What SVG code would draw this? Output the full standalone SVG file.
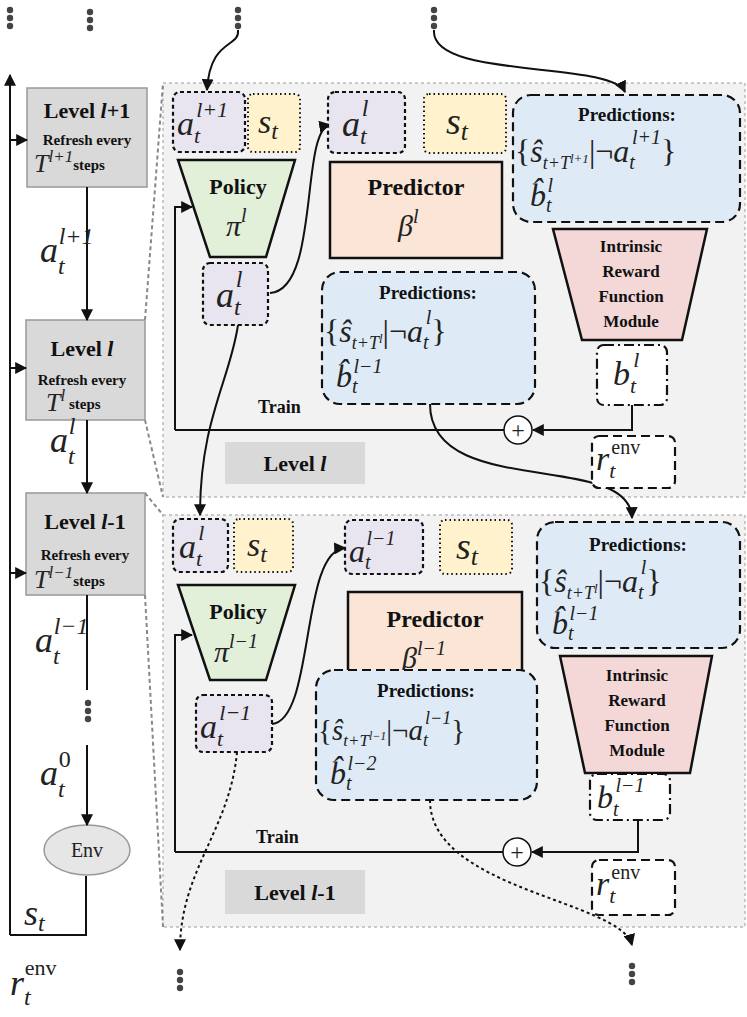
<svg xmlns="http://www.w3.org/2000/svg" width="747" height="1017" viewBox="0 0 747 1017">
<style>
.m{font-family:"Liberation Serif",serif;font-style:italic;fill:#222}
.r{font-family:"Liberation Serif",serif;fill:#222}
.b{font-family:"Liberation Serif",serif;font-weight:bold;fill:#111}
.ln{fill:none;stroke:#111;stroke-width:2}
.panel{fill:#f2f2f2;stroke:#bbb;stroke-width:1.5;stroke-dasharray:3 3}
.lav{fill:#e8e4f0;stroke:#111;stroke-width:2.2;stroke-dasharray:4 3}
.yel{fill:#fff2cc;stroke:#111;stroke-width:2;stroke-dasharray:1.5 3}
.pred{fill:#deebf7;stroke:#111;stroke-width:2.2;stroke-dasharray:9 5}
.bb{fill:#fff;stroke:#111;stroke-width:2.2;stroke-dasharray:10 4 2 4}
.rb{fill:#fff;stroke:#111;stroke-width:2.2;stroke-dasharray:9 5}
.lvl{fill:#d9d9d9;stroke:#999;stroke-width:1.5}
.zd{fill:none;stroke:#888;stroke-width:2;stroke-dasharray:4 3}
.dot{fill:#444}
</style>
<defs>
<marker id="ah" viewBox="0 0 10 10" refX="9" refY="5" markerWidth="6" markerHeight="6" orient="auto"><path d="M0,0L10,5L0,10z" fill="#111"/></marker>
<g id="dots"><circle cx="0" cy="0" r="3.2" class="dot"/><circle cx="0" cy="8" r="3.2" class="dot"/><circle cx="0" cy="16" r="3.2" class="dot"/></g>
</defs>
<rect width="747" height="1017" fill="#fff"/>
<use href="#dots" x="10" y="10"/><use href="#dots" x="90" y="12"/><use href="#dots" x="238" y="10"/><use href="#dots" x="434" y="10"/>
<use href="#dots" x="180" y="972"/><use href="#dots" x="632" y="966"/><use href="#dots" x="88" y="703"/>
<rect class="panel" x="163" y="83" width="582" height="414"/>
<rect class="panel" x="163" y="515" width="582" height="412"/>
<g id="zoomlines">
<path class="zd" d="M145,320L163,83M145,420L163,497M145,493L163,515M145,595L163,927"/>
</g>
<g id="level_l1"><rect class="lvl" x="27" y="88" width="120" height="99"/>
<text class="b" x="87" y="118" font-size="22" text-anchor="middle">Level <tspan font-style="italic">l</tspan>+1</text>
<text class="b" x="87" y="145" font-size="15" text-anchor="middle">Refresh every</text>
<text class="m" x="34" y="172" font-size="26">T<tspan dy="-10" font-size="17">l+1</tspan><tspan dy="8" class="b" font-style="normal" font-size="15">steps</tspan></text></g>
<g id="level_l"><rect class="lvl" x="26" y="320" width="119" height="100"/>
<text class="b" x="82" y="356" font-size="22" text-anchor="middle">Level <tspan font-style="italic">l</tspan></text>
<text class="b" x="82" y="385" font-size="15" text-anchor="middle">Refresh every</text>
<text class="m" x="46" y="411" font-size="26">T<tspan dy="-10" font-size="17">l</tspan><tspan dy="8" class="b" font-style="normal" font-size="15">   steps</tspan></text></g>
<g id="level_lm1"><rect class="lvl" x="26" y="493" width="119" height="102"/>
<text class="b" x="85" y="529" font-size="22" text-anchor="middle">Level <tspan font-style="italic">l</tspan>-1</text>
<text class="b" x="85" y="560" font-size="15" text-anchor="middle">Refresh every</text>
<text class="m" x="34" y="588" font-size="26">T<tspan dy="-10" font-size="17">l−1</tspan><tspan dy="8" class="b" font-style="normal" font-size="15">steps</tspan></text></g>
<g id="env"><ellipse cx="87" cy="850" rx="43" ry="25" fill="#e6e6e6" stroke="#999" stroke-width="1.5"/><text class="r" x="87" y="857" font-size="20" text-anchor="middle">Env</text></g>
<g id="connectors">
<path class="ln" d="M10,935V75" marker-end="url(#ah)"/>
<path class="ln" d="M10,935H86V876"/>
<path class="ln" d="M10,140H27" marker-end="url(#ah)"/>
<path class="ln" d="M10,368H26" marker-end="url(#ah)"/>
<path class="ln" d="M10,573H26" marker-end="url(#ah)"/>
<path class="ln" d="M87,187V320" marker-end="url(#ah)"/>
<path class="ln" d="M87,420V493" marker-end="url(#ah)"/>
<path class="ln" d="M87,595V690"/>
<path class="ln" d="M87,745V825" marker-end="url(#ah)"/>
<path class="ln" d="M238,30C240,48 210,38 207,90" marker-end="url(#ah)"/>
<path class="ln" d="M434,30C430,80 610,60 625,92" marker-end="url(#ah)"/>
<path class="ln" d="M270,293C320,290 300,130 330,125" marker-end="url(#ah)"/>
<path class="ln" d="M238,325C230,380 200,420 200,515" marker-end="url(#ah)"/>
<path class="ln" d="M175,430V207H192" marker-end="url(#ah)"/>
<path class="ln" d="M175,430H504"/>
<path class="ln" d="M632,405V430H533" marker-end="url(#ah)"/>
<path class="ln" d="M430,404C430,500 630,450 632,518" marker-end="url(#ah)"/>
<path class="ln" d="M272,724C315,720 300,550 345,548" marker-end="url(#ah)"/>
<path class="ln" d="M175,852V635H192" marker-end="url(#ah)"/>
<path class="ln" d="M175,852H503"/>
<path class="ln" d="M638,820V852H532" marker-end="url(#ah)"/>
<path class="ln" d="M237,752C230,830 180,870 180,950" stroke-dasharray="3 3" marker-end="url(#ah)"/>
<path class="ln" d="M430,800C430,890 620,900 632,945" stroke-dasharray="3 3" marker-end="url(#ah)"/>
</g>
<text class="m" x="40" y="262" font-size="36">a<tspan dy="12" font-size="24">t</tspan><tspan dx="-6" dy="-30" font-size="24">l+1</tspan></text>
<text class="m" x="50" y="452" font-size="36">a<tspan dy="12" font-size="24">t</tspan><tspan dx="-6" dy="-30" font-size="24">l</tspan></text>
<text class="m" x="35" y="652" font-size="36">a<tspan dy="12" font-size="24">t</tspan><tspan dx="-6" dy="-30" font-size="24">l−1</tspan></text>
<text class="m" x="40" y="785" font-size="36">a<tspan dy="12" font-size="24">t</tspan><tspan dx="-6" dy="-30" font-size="24" font-style="normal">0</tspan></text>
<text class="m" x="24" y="925" font-size="36">s<tspan dy="6" font-size="24">t</tspan></text>
<text class="m" x="10" y="995" font-size="36">r<tspan dy="10" font-size="24">t</tspan><tspan dx="-6" dy="-30" font-size="22" font-style="normal">env</tspan></text>

<g id="p1_a1"><rect class="lav" x="173" y="92" width="72" height="60" rx="7"/><text class="m" x="177" y="135" font-size="34">a<tspan dy="8" font-size="22">t</tspan><tspan dx="-4" dy="-26" font-size="22">l+1</tspan></text></g>
<g id="p1_s"><rect class="yel" x="248" y="94" width="52" height="58" rx="5"/><text class="m" x="258" y="133" font-size="34">s<tspan dy="6" font-size="24">t</tspan></text></g>
<g id="p1_policy"><path d="M178,160H295L266,257H210Z" fill="#e2efd9" stroke="#111" stroke-width="2.5"/><text class="b" x="238" y="194" font-size="22" text-anchor="middle">Policy</text><text class="m" x="226" y="236" font-size="30">π<tspan dy="-14" font-size="20">l</tspan></text></g>
<g id="p1_a2"><rect class="lav" x="203" y="263" width="65" height="62" rx="7"/><text class="m" x="216" y="307" font-size="36">a<tspan dy="8" font-size="24">t</tspan><tspan dx="-5" dy="-28" font-size="24">l</tspan></text></g>
<g id="p1_a3"><rect class="lav" x="328" y="92" width="77" height="61" rx="7"/><text class="m" x="342" y="136" font-size="36">a<tspan dy="8" font-size="24">t</tspan><tspan dx="-5" dy="-28" font-size="24">l</tspan></text></g>
<g id="p1_s2"><rect class="yel" x="424" y="94" width="82" height="59" rx="5"/><text class="m" x="446" y="134" font-size="38">s<tspan dy="6" font-size="26">t</tspan></text></g>
<g id="p1_predictor"><rect x="330" y="162" width="172" height="96" fill="#fbe5d6" stroke="#111" stroke-width="2.5"/><text class="b" x="416" y="195" font-size="24" text-anchor="middle">Predictor</text><text class="m" x="398" y="236" font-size="30">β<tspan dy="-13" font-size="20">l</tspan></text></g>
<g id="p1_predtop"><rect class="pred" x="513" y="95" width="227" height="127" rx="18"/><text class="b" x="627" y="121" font-size="19" text-anchor="middle">Predictions:</text>
<text class="m" x="515" y="162" font-size="32"><tspan font-style="normal">{</tspan>ŝ<tspan dy="7" font-size="18">t+T</tspan><tspan dy="-6" font-size="13">l+1</tspan><tspan dy="-1" font-size="32" font-style="normal">|¬</tspan>a<tspan dy="7" font-size="20">t</tspan><tspan dx="-3" dy="-25" font-size="20">l+1</tspan><tspan dy="18" font-size="32" font-style="normal">}</tspan></text>
<text class="m" x="530" y="206" font-size="32">b̂<tspan dy="6" font-size="20">t</tspan><tspan dx="-4" dy="-20" font-size="20">l</tspan></text></g>
<g id="p1_intrinsic"><path d="M553,229H707L682,340H582Z" fill="#f4d7d7" stroke="#111" stroke-width="2.5"/>
<text class="b" font-size="17" text-anchor="middle"><tspan x="631" y="252">Intrinsic</tspan><tspan x="631" y="277">Reward</tspan><tspan x="631" y="302">Function</tspan><tspan x="631" y="327">Module</tspan></text></g>
<g id="p1_b"><rect class="bb" x="597" y="345" width="70" height="60" rx="7"/><text class="m" x="613" y="385" font-size="34">b<tspan dy="8" font-size="22">t</tspan><tspan dx="-3" dy="-26" font-size="22">l</tspan></text></g>
<g id="p1_predmid"><rect class="pred" x="322" y="272" width="213" height="132" rx="18"/><text class="b" x="428" y="299" font-size="19" text-anchor="middle">Predictions:</text>
<text class="m" x="324" y="342" font-size="32"><tspan font-style="normal">{</tspan>ŝ<tspan dy="7" font-size="18">t+T</tspan><tspan dy="-6" font-size="13">l</tspan><tspan dy="-1" font-size="32" font-style="normal">|¬</tspan>a<tspan dy="7" font-size="20">t</tspan><tspan dx="-3" dy="-25" font-size="20">l</tspan><tspan dy="18" font-size="32" font-style="normal">}</tspan></text>
<text class="m" x="336" y="387" font-size="32">b̂<tspan dy="6" font-size="20">t</tspan><tspan dx="-4" dy="-20" font-size="20">l−1</tspan></text></g>
<text class="b" x="258" y="413" font-size="18">Train</text>
<g id="p1_plus"><circle cx="518" cy="430" r="14" fill="#fff" stroke="#111" stroke-width="1.5"/><text class="r" x="518" y="438" font-size="24" text-anchor="middle">+</text></g>
<g id="p1_r"><rect class="rb" x="592" y="436" width="83" height="52" rx="7"/><text class="m" x="596" y="470" font-size="34">r<tspan dy="8" font-size="22">t</tspan><tspan dx="-4" dy="-24" font-size="20" font-style="normal">env</tspan></text></g>
<g id="p1_label"><rect x="225" y="442" width="140" height="42" fill="#d9d9d9"/><text class="b" x="295" y="471" font-size="22" text-anchor="middle">Level <tspan font-style="italic">l</tspan></text></g>

<g id="p2_a1"><rect class="lav" x="173" y="519" width="55" height="53" rx="7"/><text class="m" x="179" y="558" font-size="34">a<tspan dy="8" font-size="22">t</tspan><tspan dx="-4" dy="-26" font-size="22">l</tspan></text></g>
<g id="p2_s"><rect class="yel" x="234" y="519" width="59" height="53" rx="5"/><text class="m" x="247" y="556" font-size="34">s<tspan dy="6" font-size="24">t</tspan></text></g>
<g id="p2_policy"><path d="M178,585H295L266,680H210Z" fill="#e2efd9" stroke="#111" stroke-width="2.5"/><text class="b" x="238" y="619" font-size="22" text-anchor="middle">Policy</text><text class="m" x="214" y="662" font-size="30">π<tspan dy="-14" font-size="20">l−1</tspan></text></g>
<g id="p2_a2"><rect class="lav" x="196" y="695" width="76" height="57" rx="7"/><text class="m" x="200" y="738" font-size="34">a<tspan dy="8" font-size="22">t</tspan><tspan dx="-4" dy="-26" font-size="22">l−1</tspan></text></g>
<g id="p2_a3"><rect class="lav" x="345" y="520" width="78" height="54" rx="7"/><text class="m" x="349" y="562" font-size="32">a<tspan dy="7" font-size="20">t</tspan><tspan dx="-4" dy="-24" font-size="20">l−1</tspan></text></g>
<g id="p2_s2"><rect class="yel" x="440" y="520" width="72" height="54" rx="5"/><text class="m" x="456" y="559" font-size="38">s<tspan dy="6" font-size="26">t</tspan></text></g>
<g id="p2_predictor"><rect x="348" y="592" width="174" height="98" fill="#fbe5d6" stroke="#111" stroke-width="2.5"/><text class="b" x="435" y="627" font-size="24" text-anchor="middle">Predictor</text><text class="m" x="402" y="668" font-size="30">β<tspan dy="-13" font-size="20">l−1</tspan></text></g>
<g id="p2_predtop"><rect class="pred" x="537" y="522" width="203" height="126" rx="18"/><text class="b" x="638" y="551" font-size="19" text-anchor="middle">Predictions:</text>
<text class="m" x="539" y="592" font-size="32"><tspan font-style="normal">{</tspan>ŝ<tspan dy="7" font-size="18">t+T</tspan><tspan dy="-6" font-size="13">l</tspan><tspan dy="-1" font-size="32" font-style="normal">|¬</tspan>a<tspan dy="7" font-size="20">t</tspan><tspan dx="-3" dy="-25" font-size="20">l</tspan><tspan dy="18" font-size="32" font-style="normal">}</tspan></text>
<text class="m" x="552" y="634" font-size="32">b̂<tspan dy="6" font-size="20">t</tspan><tspan dx="-4" dy="-20" font-size="20">l−1</tspan></text></g>
<g id="p2_intrinsic"><path d="M560,656H712L690,773H585Z" fill="#f4d7d7" stroke="#111" stroke-width="2.5"/>
<text class="b" font-size="17" text-anchor="middle"><tspan x="637" y="681">Intrinsic</tspan><tspan x="637" y="706">Reward</tspan><tspan x="637" y="731">Function</tspan><tspan x="637" y="756">Module</tspan></text></g>
<g id="p2_b"><rect class="bb" x="590" y="774" width="80" height="46" rx="7"/><text class="m" x="597" y="808" font-size="32">b<tspan dy="8" font-size="20">t</tspan><tspan dx="-3" dy="-24" font-size="20">l−1</tspan></text></g>
<g id="p2_predmid"><rect class="pred" x="316" y="670" width="221" height="130" rx="18"/><text class="b" x="426" y="697" font-size="19" text-anchor="middle">Predictions:</text>
<text class="m" x="318" y="740" font-size="29"><tspan font-style="normal">{</tspan>ŝ<tspan dy="6" font-size="17">t+T</tspan><tspan dy="-6" font-size="12">l−1</tspan><tspan font-size="29" font-style="normal">|¬</tspan>a<tspan dy="6" font-size="18">t</tspan><tspan dx="-3" dy="-22" font-size="18">l−1</tspan><tspan dy="16" font-size="29" font-style="normal">}</tspan></text>
<text class="m" x="330" y="784" font-size="32">b̂<tspan dy="6" font-size="20">t</tspan><tspan dx="-4" dy="-20" font-size="20">l−2</tspan></text></g>
<text class="b" x="256" y="843" font-size="18">Train</text>
<g id="p2_plus"><circle cx="517" cy="852" r="14" fill="#fff" stroke="#111" stroke-width="1.5"/><text class="r" x="517" y="860" font-size="24" text-anchor="middle">+</text></g>
<g id="p2_r"><rect class="rb" x="592" y="860" width="83" height="55" rx="7"/><text class="m" x="596" y="895" font-size="34">r<tspan dy="8" font-size="22">t</tspan><tspan dx="-4" dy="-24" font-size="20" font-style="normal">env</tspan></text></g>
<g id="p2_label"><rect x="225" y="870" width="140" height="44" fill="#d9d9d9"/><text class="b" x="295" y="900" font-size="22" text-anchor="middle">Level <tspan font-style="italic">l</tspan>-1</text></g>
</svg>
